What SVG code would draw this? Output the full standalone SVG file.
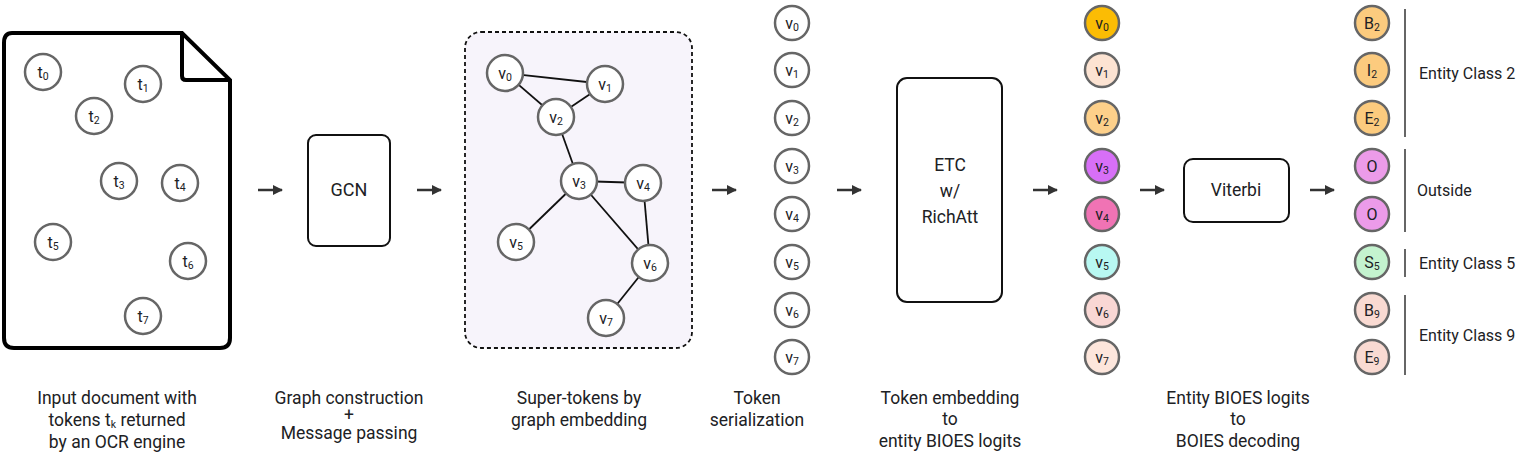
<svg xmlns="http://www.w3.org/2000/svg" width="1525" height="455" viewBox="0 0 1525 455">
<defs>
<marker id="ah" viewBox="0 0 10 10" refX="9" refY="5" markerWidth="10" markerHeight="10" markerUnits="userSpaceOnUse" orient="auto"><path d="M0,0 L10,5 L0,10 z" fill="#333"/></marker>
<style>
text{font-family:Roboto,"Liberation Sans",sans-serif;fill:#202124}
.lbl{font-size:17.5px;text-anchor:middle}
.n{font-size:16px;text-anchor:middle}
.s{font-size:10.5px}
.tk{fill:#fff;stroke:#666;stroke-width:2.5}
.c{stroke:#666;stroke-width:2.5}
.box{fill:#fff;stroke:#111;stroke-width:2}
.arr{stroke:#333;stroke-width:2.5;marker-end:url(#ah)}
.edge{stroke:#111;stroke-width:1.8}
.bar{stroke:#666;stroke-width:2}
.cl{font-size:16px}
</style>
</defs>
<g id="document">
<path d="M12,33 H182 L230,80 V338 Q230,348 220,348 H14 Q4,348 4,338 V43 Q4,33 12,33 Z" fill="#fff" stroke="#000" stroke-width="4"/>
<path d="M182,33 V76 Q182,80 186,80 H230" fill="none" stroke="#000" stroke-width="4"/>
</g>
<g id="tokens">
<circle class="tk" cx="43" cy="72" r="18"/><text class="n" x="43" y="78">t<tspan class="s" dy="2">0</tspan></text>
<circle class="tk" cx="143" cy="84" r="18"/><text class="n" x="143" y="90">t<tspan class="s" dy="2">1</tspan></text>
<circle class="tk" cx="94" cy="116" r="18"/><text class="n" x="94" y="122">t<tspan class="s" dy="2">2</tspan></text>
<circle class="tk" cx="119" cy="181" r="18"/><text class="n" x="119" y="187">t<tspan class="s" dy="2">3</tspan></text>
<circle class="tk" cx="180" cy="183" r="18"/><text class="n" x="180" y="189">t<tspan class="s" dy="2">4</tspan></text>
<circle class="tk" cx="53" cy="242" r="18"/><text class="n" x="53" y="248">t<tspan class="s" dy="2">5</tspan></text>
<circle class="tk" cx="188" cy="261" r="18"/><text class="n" x="188" y="267">t<tspan class="s" dy="2">6</tspan></text>
<circle class="tk" cx="143" cy="316" r="18"/><text class="n" x="143" y="322">t<tspan class="s" dy="2">7</tspan></text>
</g>
<g id="gcn"><rect class="box" x="308" y="135" width="82" height="111" rx="8"/><text x="349" y="196" font-size="18" text-anchor="middle">GCN</text></g>
<g id="graph-panel"><rect x="465" y="32" width="227" height="316" rx="16" fill="#f7f4fb" stroke="#111" stroke-width="1.8" stroke-dasharray="4,3"/></g>
<g id="connectors">
<line class="arr" x1="258" y1="190" x2="282" y2="190"/>
<line class="arr" x1="417" y1="190" x2="441" y2="190"/>
<line class="arr" x1="712" y1="190" x2="736" y2="190"/>
<line class="arr" x1="837" y1="190" x2="861" y2="190"/>
<line class="arr" x1="1033" y1="190" x2="1057" y2="190"/>
<line class="arr" x1="1140" y1="190" x2="1164" y2="190"/>
<line class="arr" x1="1310" y1="190" x2="1334" y2="190"/>
<line class="edge" x1="505" y1="73" x2="605" y2="84"/>
<line class="edge" x1="505" y1="73" x2="556" y2="117"/>
<line class="edge" x1="556" y1="117" x2="605" y2="84"/>
<line class="edge" x1="556" y1="117" x2="579" y2="181"/>
<line class="edge" x1="579" y1="181" x2="643" y2="183"/>
<line class="edge" x1="579" y1="181" x2="516" y2="242"/>
<line class="edge" x1="579" y1="181" x2="650" y2="263"/>
<line class="edge" x1="643" y1="183" x2="650" y2="263"/>
<line class="edge" x1="650" y1="263" x2="606" y2="318"/>
</g>
<g id="graph-nodes">
<circle class="tk" cx="505" cy="73" r="18"/><text class="n" x="505" y="79">v<tspan class="s" dy="2">0</tspan></text>
<circle class="tk" cx="605" cy="84" r="18"/><text class="n" x="605" y="90">v<tspan class="s" dy="2">1</tspan></text>
<circle class="tk" cx="556" cy="117" r="18"/><text class="n" x="556" y="123">v<tspan class="s" dy="2">2</tspan></text>
<circle class="tk" cx="579" cy="181" r="18"/><text class="n" x="579" y="187">v<tspan class="s" dy="2">3</tspan></text>
<circle class="tk" cx="643" cy="183" r="18"/><text class="n" x="643" y="189">v<tspan class="s" dy="2">4</tspan></text>
<circle class="tk" cx="516" cy="242" r="18"/><text class="n" x="516" y="248">v<tspan class="s" dy="2">5</tspan></text>
<circle class="tk" cx="650" cy="263" r="18"/><text class="n" x="650" y="269">v<tspan class="s" dy="2">6</tspan></text>
<circle class="tk" cx="606" cy="318" r="18"/><text class="n" x="606" y="324">v<tspan class="s" dy="2">7</tspan></text>
</g>
<g id="serialized">
<circle class="tk" cx="792" cy="23" r="17"/><text class="n" x="792" y="29">v<tspan class="s" dy="2">0</tspan></text>
<circle class="tk" cx="792" cy="70" r="17"/><text class="n" x="792" y="76">v<tspan class="s" dy="2">1</tspan></text>
<circle class="tk" cx="792" cy="118" r="17"/><text class="n" x="792" y="124">v<tspan class="s" dy="2">2</tspan></text>
<circle class="tk" cx="792" cy="166" r="17"/><text class="n" x="792" y="172">v<tspan class="s" dy="2">3</tspan></text>
<circle class="tk" cx="792" cy="214" r="17"/><text class="n" x="792" y="220">v<tspan class="s" dy="2">4</tspan></text>
<circle class="tk" cx="792" cy="262" r="17"/><text class="n" x="792" y="268">v<tspan class="s" dy="2">5</tspan></text>
<circle class="tk" cx="792" cy="310" r="17"/><text class="n" x="792" y="316">v<tspan class="s" dy="2">6</tspan></text>
<circle class="tk" cx="792" cy="357" r="17"/><text class="n" x="792" y="363">v<tspan class="s" dy="2">7</tspan></text>
</g>
<g id="etc"><rect class="box" x="897" y="78" width="105" height="224" rx="10"/>
<text x="950" y="171" font-size="17.5" text-anchor="middle">ETC</text>
<text x="950" y="197" font-size="17.5" text-anchor="middle">w/</text>
<text x="950" y="223" font-size="17.5" text-anchor="middle">RichAtt</text></g>
<g id="logits">
<circle class="c" fill="#fbbc04" cx="1102" cy="23" r="17"/><text class="n" x="1102" y="29">v<tspan class="s" dy="2">0</tspan></text>
<circle class="c" fill="#fce3d2" cx="1102" cy="70" r="17"/><text class="n" x="1102" y="76">v<tspan class="s" dy="2">1</tspan></text>
<circle class="c" fill="#fdd08a" cx="1102" cy="118" r="17"/><text class="n" x="1102" y="124">v<tspan class="s" dy="2">2</tspan></text>
<circle class="c" fill="#d76ff7" cx="1102" cy="166" r="17"/><text class="n" x="1102" y="172">v<tspan class="s" dy="2">3</tspan></text>
<circle class="c" fill="#f073b4" cx="1102" cy="214" r="17"/><text class="n" x="1102" y="220">v<tspan class="s" dy="2">4</tspan></text>
<circle class="c" fill="#b8f8f2" cx="1102" cy="262" r="17"/><text class="n" x="1102" y="268">v<tspan class="s" dy="2">5</tspan></text>
<circle class="c" fill="#f9d7d4" cx="1102" cy="310" r="17"/><text class="n" x="1102" y="316">v<tspan class="s" dy="2">6</tspan></text>
<circle class="c" fill="#fde6dc" cx="1102" cy="357" r="17"/><text class="n" x="1102" y="363">v<tspan class="s" dy="2">7</tspan></text>
</g>
<g id="viterbi"><rect class="box" x="1184" y="159" width="105" height="63" rx="9"/><text x="1236" y="196" font-size="17.5" text-anchor="middle">Viterbi</text></g>
<g id="tags">
<circle class="c" fill="#fccb7e" cx="1372" cy="23" r="17"/><text class="n" x="1372" y="29">B<tspan class="s" dy="2">2</tspan></text>
<circle class="c" fill="#fccb7e" cx="1372" cy="70" r="17"/><text class="n" x="1372" y="76">I<tspan class="s" dy="2">2</tspan></text>
<circle class="c" fill="#fccb7e" cx="1372" cy="118" r="17"/><text class="n" x="1372" y="124">E<tspan class="s" dy="2">2</tspan></text>
<circle class="c" fill="#ec9be9" cx="1372" cy="166" r="17"/><text class="n" x="1372" y="172">O</text>
<circle class="c" fill="#ec9be9" cx="1372" cy="214" r="17"/><text class="n" x="1372" y="220">O</text>
<circle class="c" fill="#c4f3cf" cx="1372" cy="262" r="17"/><text class="n" x="1372" y="268">S<tspan class="s" dy="2">5</tspan></text>
<circle class="c" fill="#f9dad2" cx="1372" cy="310" r="17"/><text class="n" x="1372" y="316">B<tspan class="s" dy="2">9</tspan></text>
<circle class="c" fill="#f9dad2" cx="1372" cy="357" r="17"/><text class="n" x="1372" y="363">E<tspan class="s" dy="2">9</tspan></text>
</g>
<g id="classes">
<line class="bar" x1="1405" y1="9" x2="1405" y2="137"/>
<line class="bar" x1="1405" y1="149" x2="1405" y2="232"/>
<line class="bar" x1="1405" y1="249" x2="1405" y2="277"/>
<line class="bar" x1="1405" y1="295" x2="1405" y2="375"/>
<text class="cl" x="1419" y="79">Entity Class 2</text>
<text class="cl" x="1417" y="196">Outside</text>
<text class="cl" x="1419" y="269">Entity Class 5</text>
<text class="cl" x="1419" y="341">Entity Class 9</text>
</g>
<g id="captions">
<text class="lbl" x="117" y="404">Input document with</text>
<text class="lbl" x="117" y="426">tokens t<tspan class="s" dy="2">k</tspan><tspan dy="-2"> returned</tspan></text>
<text class="lbl" x="117" y="448">by an OCR engine</text>
<text class="lbl" x="349" y="404">Graph construction</text>
<text class="lbl" x="349" y="421">+</text>
<text class="lbl" x="349" y="439">Message passing</text>
<text class="lbl" x="579" y="404">Super-tokens by</text>
<text class="lbl" x="579" y="426">graph embedding</text>
<text class="lbl" x="757" y="404">Token</text>
<text class="lbl" x="757" y="426">serialization</text>
<text class="lbl" x="950" y="404">Token embedding</text>
<text class="lbl" x="950" y="425">to</text>
<text class="lbl" x="950" y="447">entity BIOES logits</text>
<text class="lbl" x="1238" y="404">Entity BIOES logits</text>
<text class="lbl" x="1238" y="425">to</text>
<text class="lbl" x="1238" y="447">BOIES decoding</text>
</g>
</svg>
